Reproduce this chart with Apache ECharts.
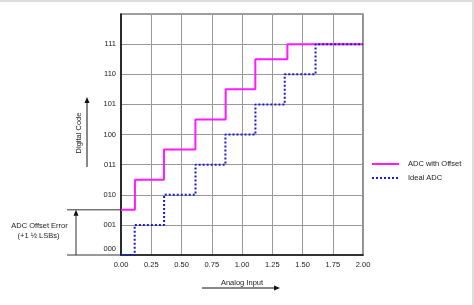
<!DOCTYPE html>
<html><head><meta charset="utf-8">
<script src="https://cdn.jsdelivr.net/npm/echarts@6/dist/echarts.min.js"></script>
<style>html,body{margin:0;padding:0;background:#fff}#c{width:474px;height:305px}</style>
</head><body><div id="c"></div>
<script>
// ---- data ----
const codeLabels = ['000','001','010','011','100','101','110','111'];
const xTicks = [0, 0.25, 0.5, 0.75, 1.0, 1.25, 1.5, 1.75, 2.0];
// Ideal ADC: transition inputs and output levels
const idealX = [0, 0.113, 0.356, 0.616, 0.863, 1.111, 1.353, 1.608, 2.0];
const idealY = [0, 1, 2, 3, 4, 5, 6, 7, 7];
// ADC with offset (+1.5 LSB)
const offsetX = [0, 0.115, 0.355, 0.615, 0.865, 1.11, 1.375, 2.0];
const offsetY = [1.5, 2.5, 3.5, 4.5, 5.5, 6.5, 7, 7];
const offsetErr = 1.5;

const font = 'Liberation Sans, Arial, sans-serif';
const idealData = idealX.map((x,i)=>[x, idealY[i]]);
const offsetData = offsetX.map((x,i)=>[x, offsetY[i]]);

const chart = echarts.init(document.getElementById('c'));
chart.setOption({
  animation:false,
  backgroundColor:'#fff',
  textStyle:{fontFamily:font},
  grid:{left:121, right:111, top:14, bottom:50, show:true, borderColor:'#444', borderWidth:1.2},
  legend:{
    orient:'vertical', left:371, top:160, padding:0, itemWidth:27, itemHeight:10, itemGap:6,
    itemStyle:{opacity:0},
    textStyle:{fontFamily:font, fontSize:7.5, color:'#222', padding:[0,0,0,4]},
    data:['ADC with Offset','Ideal ADC']
  },
  xAxis:{
    type:'value', min:0, max:2, interval:0.25,
    name:'Analog Input', nameLocation:'middle', nameGap:24,
    nameTextStyle:{fontFamily:font, fontSize:7.5, color:'#222'},
    axisLine:{show:true, onZero:false, lineStyle:{color:'#111', width:1.6}},
    axisTick:{show:false},
    axisLabel:{fontFamily:font, fontSize:7.5, color:'#222', margin:6, formatter:v=>v.toFixed(2)},
    splitLine:{show:true, lineStyle:{color:'#999', width:1}}
  },
  yAxis:{
    type:'value', min:0, max:8, interval:1,
    axisLine:{show:true, lineStyle:{color:'#111', width:1.6}},
    axisTick:{show:false},
    axisLabel:{fontFamily:font, fontSize:7.5, color:'#222', margin:5,
      formatter:v=> v===0 ? '{b|'+codeLabels[0]+'}' : (codeLabels[v]||''),
      rich:{b:{fontFamily:font, fontSize:7.5, color:'#222', padding:[0,0,12,0]}}},
    splitLine:{show:true, lineStyle:{color:'#999', width:1}}
  },
  series:[
    {name:'ADC with Offset', type:'line', step:'end', data:offsetData, symbol:'none',
     color:'#ff1aff', lineStyle:{color:'#ff1aff', width:2}, z:3},
    {name:'Ideal ADC', type:'line', step:'end', data:idealData, symbol:'none',
     color:'#1a1ad0', lineStyle:{color:'#1a1ad0', width:2, type:[2,2]}, z:4}
  ]
});

// annotations
const p0 = chart.convertToPixel({gridIndex:0},[0,0]);
const pOff = chart.convertToPixel({gridIndex:0},[0,offsetErr]);
const ext = 67, ax = 76;
const gcol = '#222';
chart.setOption({graphic:[
  {type:'rect', shape:{x:0,y:0,width:474,height:2}, style:{fill:'#ddd'}, silent:true},
  {type:'rect', shape:{x:472,y:0,width:2,height:305}, style:{fill:'#ddd'}, silent:true},
  {type:'line', shape:{x1:ext,y1:p0[1],x2:p0[0],y2:p0[1]}, style:{stroke:'#333',lineWidth:1}},
  {type:'line', shape:{x1:ext,y1:pOff[1],x2:p0[0],y2:pOff[1]}, style:{stroke:'#333',lineWidth:1}},
  {type:'line', shape:{x1:ax,y1:p0[1],x2:ax,y2:pOff[1]+4}, style:{stroke:'#333',lineWidth:1}},
  {type:'polygon', shape:{points:[[ax,pOff[1]],[ax-2.5,pOff[1]+6],[ax+2.5,pOff[1]+6]]}, style:{fill:'#111'}},
  {type:'text', style:{text:'ADC Offset Error', x:39.5, y:226, align:'center', verticalAlign:'middle', font:'7.5px '+font, fill:gcol}},
  {type:'text', style:{text:'(+1 ½ LSBs)', x:38.5, y:235.5, align:'center', verticalAlign:'middle', font:'7.5px '+font, fill:gcol}},
  {type:'text', rotation:Math.PI/2, x:79, y:133, style:{text:'Digital Code', x:0, y:0, align:'center', verticalAlign:'middle', font:'7.5px '+font, fill:gcol}},
  {type:'line', shape:{x1:87,y1:167,x2:87,y2:102}, style:{stroke:'#111',lineWidth:1}},
  {type:'polygon', shape:{points:[[87,97],[84.5,103],[89.5,103]]}, style:{fill:'#111'}},
  {type:'line', shape:{x1:202,y1:288,x2:275,y2:288}, style:{stroke:'#111',lineWidth:1}},
  {type:'polygon', shape:{points:[[280,288],[274,285.5],[274,290.5]]}, style:{fill:'#111'}}
]});
</script></body></html>
